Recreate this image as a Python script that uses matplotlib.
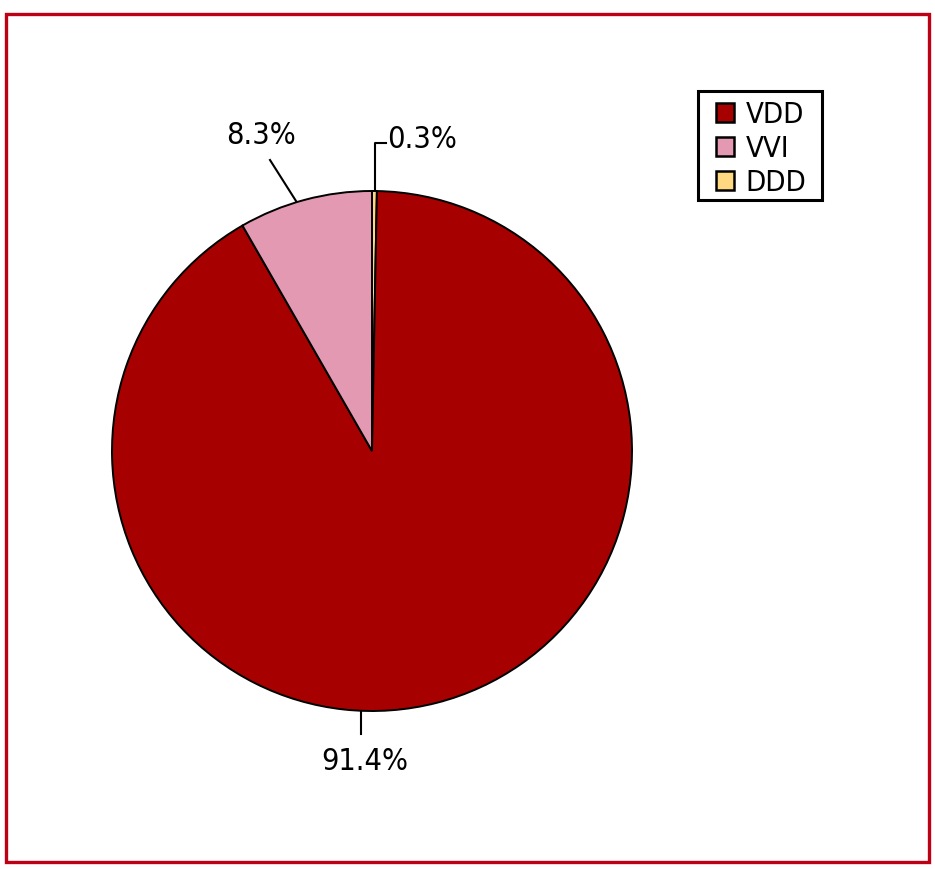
import numpy as np
import matplotlib
matplotlib.use('Agg')
from matplotlib import pyplot as plt
from matplotlib.patches import Patch, Rectangle

# Pacing mode shares (pie drawn clockwise from 12 o'clock)
modes = ['DDD', 'VDD', 'VVI']
shares = [0.3, 91.4, 8.3]
colors = ['#FFD982', '#A60000', '#E499B2']
legend_order = ['VDD', 'VVI', 'DDD']

W, H = 935, 869

# no narrow face installed, so use the condensed DejaVu
plt.rcParams['font.family'] = ['DejaVu Sans']
plt.rcParams['font.stretch'] = 'condensed'

fig = plt.figure(figsize=(W / 100, H / 100), dpi=100)
ax = fig.add_axes([0, 0, 1, 1])

def px(x, y):
    # pixel position (top-left origin) -> data coords
    return x, H - y

cx, cy = px(372, 451)
R = 260

wedges, _ = ax.pie(shares, colors=colors, startangle=90, counterclock=False,
                   center=(cx, cy), radius=R, frame=True,
                   wedgeprops=dict(edgecolor='black', linewidth=1.4))

ax.set_xlim(0, W)
ax.set_ylim(0, H)
ax.set_aspect('equal', adjustable='box')
ax.axis('off')

# outer red frame
fig.patches.append(Rectangle((5.5 / W, 1 - 861.5 / H), 923 / W, 848 / H,
                             transform=fig.transFigure, fill=False,
                             edgecolor='#BE0014', linewidth=2.4))

# percentage labels with leader lines
fs = 22
lab = {m: '%.1f%%' % v for m, v in zip(modes, shares)}

ax.plot(*zip(px(296, 201), px(270, 160)), color='black', lw=1.5)
ax.text(*px(261, 135), lab['VVI'], fontsize=fs, ha='center', va='center')

ax.plot(*zip(px(375, 190), px(375, 143), px(386, 143)), color='black', lw=1.5)
ax.text(*px(387, 139), lab['DDD'], fontsize=fs, ha='left', va='center')

ax.plot(*zip(px(361, 711), px(361, 734)), color='black', lw=1.5)
ax.text(*px(365, 762), lab['VDD'], fontsize=fs, ha='center', va='center')

# legend: box drawn separately so the padding can be wider at the sides
ax.add_patch(Rectangle(px(698, 200), 124, 109, fill=False,
                       edgecolor='black', linewidth=2.2, zorder=5))
handles = [Patch(facecolor=colors[modes.index(m)], edgecolor='black', linewidth=1.8)
           for m in legend_order]
lgd = ax.legend(handles, legend_order, loc='upper left',
                bbox_to_anchor=(716 / W, 1 - 101 / H), bbox_transform=fig.transFigure,
                borderaxespad=0, borderpad=0, fontsize=21, handlelength=0.62,
                handleheight=0.62, handletextpad=0.4, labelspacing=0.2,
                frameon=False)

plt.savefig('out.png', dpi=100)
